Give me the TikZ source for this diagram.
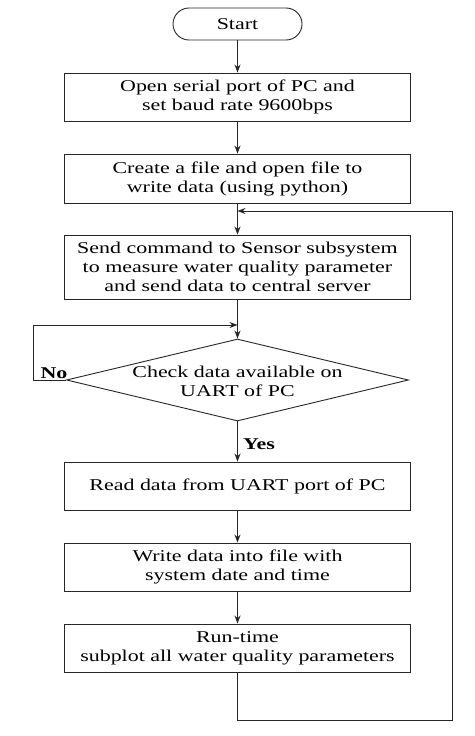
\documentclass[tikz,border=0pt]{standalone}
\usepackage{fontspec}
\setmainfont{Liberation Serif}[FakeStretch=1.33]
\usetikzlibrary{arrows.meta,shapes.geometric}
\begin{document}
\begin{tikzpicture}[x=1pt,y=-1pt,
  line width=0.9pt, draw=black!85,
  every node/.style={font=\fontsize{16.5}{19}\selectfont},
  proc/.style={draw, minimum width=346pt, inner sep=0pt, align=center},
  term/.style={draw, rounded corners=16pt, minimum width=129pt, minimum height=32pt, inner sep=0pt},
  decision/.style={draw, diamond, minimum width=342pt, minimum height=82pt, inner sep=0pt},
  arr/.style={-{Stealth[length=8pt,width=6pt]}},
  lbl/.style={font=\fontsize{16.5}{19}\selectfont\bfseries, inner sep=0pt}]
\useasboundingbox (0,0) rectangle (474,736);
\node[term] (start) at (237.5,24) {Start};
\node[proc, minimum height=48pt] (b1) at (237.5,97) {Open serial port of PC and\\set baud rate 9600bps};
\node[proc, minimum height=49pt] (b2) at (237.5,178.5) {Create a file and open file to\\write data (using python)};
\node[proc, minimum height=64pt] (b3) at (237.5,267) {Send command to Sensor subsystem\\to measure water quality parameter\\and send data to central server};
\node[decision] (d) at (237.5,380) {};
\node[align=center, inner sep=0pt] (dt) at (237.5,381) {Check data available on\\UART of PC};
\node[proc, minimum height=48pt] (b4) at (237.5,486) {Read data from UART port of PC};
\node[proc, minimum height=48pt] (b5) at (237.5,567) {Write data into file with\\system date and time};
\node[proc, minimum height=48pt] (b6) at (237.5,648) {Run-time\\subplot all water quality parameters};
\node[lbl] (no) at (54,373) {No};
\node[lbl] (yes) at (259,444) {Yes};
\coordinate (n1) at (33,380);
\coordinate (n2) at (33,325);
\coordinate (n3) at (237.5,325);
\coordinate (l1) at (237.5,720);
\coordinate (l2) at (452,720);
\coordinate (l3) at (452,211);
\coordinate (l4) at (237.5,211);
\draw[arr] (start) -- (b1);
\draw[arr] (b1) -- (b2);
\draw[arr] (b2) -- (b3);
\draw[arr] (b3) -- (d.north);
\draw[arr] (d.west) -- (n1) -- (n2) -- (n3);
\draw[arr] (d.south) -- (b4);
\draw[arr] (b4) -- (b5);
\draw[arr] (b5) -- (b6);
\draw[arr] (b6.south) -- (l1) -- (l2) -- (l3) -- (l4);
\end{tikzpicture}
\end{document}
